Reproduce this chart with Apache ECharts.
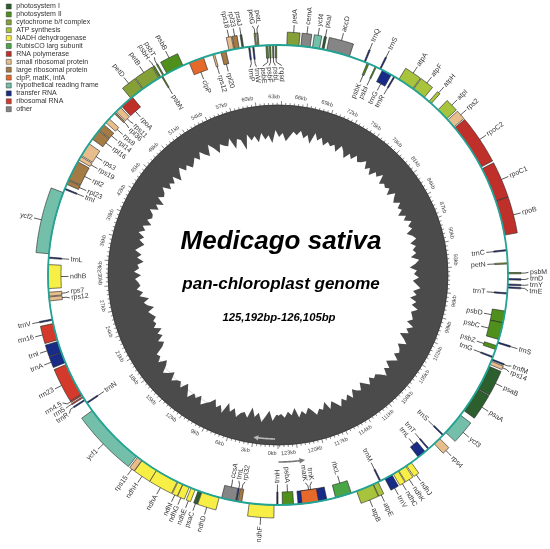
<!DOCTYPE html>
<html><head><meta charset="utf-8">
<script src="https://cdn.jsdelivr.net/npm/echarts@6/dist/echarts.min.js"></script>
<style>html,body{margin:0;padding:0;background:#fff}#c{width:550px;height:549px}</style>
</head><body><div id="c"></div>
<script>
// ---------------- DATA ----------------
const GENOME_KB = 125.192;
const categories = ['photosystem I','photosystem II','cytochrome b/f complex','ATP synthesis','NADH dehydrogenase','RubisCO larg subunit','RNA polymerase','small ribosomal protein','large ribosomal protein','clpP, matK, infA','hypothetical reading frame','transfer RNA','ribosomal RNA','other'];
const categoryColors = ['#2d5f2e','#4f8f1b','#86a038','#a7c43c','#f7ef45','#4aa546','#c0302b','#e8bd8c','#a47a45','#e5692a','#74bfa9','#182b86','#d43a2c','#858585'];
// [name, start kb, end kb, strand]  strand 1 = drawn outside, -1 = drawn inside
const photosystemI = [['psaC',6.75,7.06,1],['psaJ',59.47,59.61,1],['psaI',66.42,66.60,1],['psaB',102.03,104.19,1],['psaA',104.26,106.45,1]];
const photosystemII = [['psbH',51.82,51.96,1],['psbN',52.02,52.13,-1],['psbT',52.16,52.27,1],['psbB',52.55,54.11,1],['psbE',61.55,61.73,-1],['psbF',61.87,61.94,-1],['psbL',62.14,62.21,-1],['psbJ',62.39,62.46,-1],['psbK',70.53,70.70,-1],['psbI',71.29,71.40,-1],['psbM',93.69,93.79,1],['psbD',97.03,98.07,-1],['psbC',98.07,99.56,-1],['psbZ',100.12,100.47,-1],['psbA',123.84,124.81,-1]];
const cytochrome = [['petD',48.76,50.04,1],['petB',50.11,51.75,1],['petG',60.65,60.72,1],['petL',60.86,60.93,1],['petA',63.36,64.41,1],['petN',92.85,92.92,-1]];
const atpSynthase = [['atpA',73.62,75.08,1],['atpF',75.15,76.33,1],['atpH',76.86,77.13,1],['atpI',77.93,79.01,1],['atpE',116.22,116.67,1],['atpB',116.71,118.24,1]];
const nadh = [['ndhF',0.34,2.50,1],['ndhD',5.15,6.71,1],['ndhE',7.34,7.72,1],['ndhG',7.89,8.49,1],['ndhI',8.52,8.97,1],['ndhA',9.04,11.09,1],['ndhH',11.09,12.59,1],['ndhB',30.12,32.20,-1],['ndhJ',112.88,113.37,1],['ndhK',113.47,114.17,1],['ndhC',114.24,114.73,1]];
const rubisco = [['rbcL',118.73,120.15,-1]];
const rnaPolymerase = [['rpoA',47.71,48.93,-1],['rpoC2',80.05,84.16,1],['rpoC1',84.33,87.36,1],['rpoB',87.39,90.42,1]];
const smallRibosomal = [['rps15',12.62,13.08,1],['rps12',29.04,29.39,-1],['rps7',29.46,29.80,-1],['rps19',41.73,42.08,-1],['rps3',42.18,43.40,-1],['rps8',45.73,46.18,-1],['rps11',47.05,47.57,-1],['rps12',56.86,57.03,-1],['rps18',58.32,58.74,1],['rps2',79.15,79.95,1],['rps14',101.55,101.86,1],['rps4',109.65,110.31,1]];
const largeRibosomal = [['rpl32',3.16,3.48,-1],['rpl23',39.37,39.75,-1],['rpl2',39.82,41.56,-1],['rpl16',43.89,44.79,-1],['rpl14',44.86,45.49,-1],['rpl36',46.81,46.95,-1],['rpl20',57.59,58.04,-1],['rpl33',58.81,59.22,1]];
const clpMatInf = [['clpP',54.70,56.02,-1],['matK',121.65,123.11,-1]];
const hypothetical = [['ycf1',13.21,18.74,1],['ycf2',33.14,38.60,1],['ycf4',65.59,66.21,1],['ycf3',106.94,108.92,1]];
const transferRNA = [['trnH',0.02,0.09,-1],['trnL',3.58,3.65,-1],['trnN',19.51,19.58,-1],['trnR',19.82,19.89,1],['trnA',23.51,24.45,1],['trnI',24.48,25.46,1],['trnV',27.37,27.44,1],['trnL',32.76,32.83,-1],['trnI',38.91,38.98,-1],['trnP',60.06,60.13,-1],['trnW',60.41,60.48,-1],['trnQ',70.25,70.35,1],['trnS',71.74,71.81,1],['trnG',71.99,72.86,-1],['trnR',73.13,73.20,-1],['trnC',91.71,91.78,-1],['trnD',94.21,94.31,1],['trnY',94.69,94.76,1],['trnE',94.94,95.01,1],['trnT',95.46,95.53,-1],['trnS',99.81,99.88,1],['trnG',101.13,101.20,-1],['trnfM',101.37,101.44,1],['trnS',109.20,109.27,-1],['trnT',110.94,111.01,-1],['trnL',111.35,112.12,-1],['trnV',114.87,115.56,1],['trnM',115.98,116.05,-1],['trnK',120.92,123.45,-1]];
const ribosomalRNA = [['rrn5',20.10,20.20,1],['rrn4.5',20.31,20.41,1],['rrn23',20.45,23.33,1],['rrn16',25.60,27.06,1]];
const other = [['ccsA',3.70,4.94,-1],['cemA',64.58,65.38,1],['accD',66.84,68.89,1]];
const geneGroups = [photosystemI,photosystemII,cytochrome,atpSynthase,nadh,rubisco,rnaPolymerase,smallRibosomal,largeRibosomal,clpMatInf,hypothetical,transferRNA,ribosomalRNA,other];

// GC content profile, 0.5 kb windows (drawn inward from the ring edge)
const gcBinKb = 0.5;
const gcContent = [
30,24,34,28,22,31,26,35,24,29, 27,22,30,25,33,21,28,24,31,26,
23,19,27,22,25,18,24,29,21,26, 24,20,28,23,19,26,30,22,27,25,
34,38,33,40,36,42,35,39,37,41, 38,35,42,36,33,39,30,34,28,32,
30,27,33,26,31,29,35,28,32,25, 29,33,27,31,24,30,26,34,28,32,
31,26,34,29,36,27,32,30,25,33, 28,32,26,35,29,24,31,27,33,30,
26,31,24,29,33,22,28,35,27,30, 32,25,37,28,30,41,26,33,29,36,
27,34,30,38,25,32,28,36,31,26, 29,24,31,27,35,23,30,26,33,28,
31,28,34,26,30,36,29,33,27,32, 30,26,33,29,35,28,31,25,34,30,
32,29,35,27,31,34,28,33,30,36, 29,33,26,31,28,35,30,27,34,29,
33,30,36,28,32,38,31,34,29,35, 31,27,34,30,36,29,33,26,32,30,
28,33,25,31,27,35,29,24,32,28, 26,30,23,28,32,25,29,22,27,31,
29,33,27,31,35,28,30,34,26,32, 27,31,24,29,33,26,35,28,30,25,
30,34,28,32,26,36,29,33,27,31, 29];

const tickKb = [0,3,6,9,12,15,18,21,24,27,30,33,36,39,42,45,48,51,54,57,60,63,66,69,72,75,78,81,84,87,90,93,96,99,102,105,108,111,114,117,120,123];

// ---------------- LAYOUT ----------------
const R_TEAL = 230, BOX_H = 13;
const OUT_LABEL_R = 252, IN_LABEL_R = 208;
const GC_OUTER = 170, GC_MID = 146;
const FONT = '"Liberation Sans", Arial, sans-serif';

const labelPos = geneGroups.map(g => g.map(() => 0));
(function layoutLabels(){
  const all = [];
  geneGroups.forEach((grp, ci) => grp.forEach((g, gi) => all.push({ci, gi, mid:(g[1]+g[2])/2, side:g[3]})));
  [1,-1].forEach(side => {
    const items = all.filter(d => d.side === side).sort((a,b) => a.mid - b.mid);
    const r = side === 1 ? OUT_LABEL_R : IN_LABEL_R;
    const delta = (6.3 / r) / (2*Math.PI) * GENOME_KB;
    let best = 0, bestGap = -1;
    for (let i = 0; i < items.length; i++) {
      const prev = items[(i - 1 + items.length) % items.length];
      let gap = items[i].mid - prev.mid; if (i === 0) gap += GENOME_KB;
      if (gap > bestGap) { bestGap = gap; best = i; }
    }
    const ordered = items.slice(best).map(d => (d.want = d.mid, d))
      .concat(items.slice(0, best).map(d => (d.want = d.mid + GENOME_KB, d)));
    const clusters = [];
    ordered.forEach(it => {
      clusters.push({items:[it], sum:it.want});
      while (clusters.length > 1) {
        const c = clusters[clusters.length-1], p = clusters[clusters.length-2];
        const cs = c.sum/c.items.length - (c.items.length-1)*delta/2;
        const pe = p.sum/p.items.length + (p.items.length-1)*delta/2;
        if (pe + delta > cs) { p.items = p.items.concat(c.items); p.sum += c.sum; clusters.pop(); }
        else break;
      }
    });
    clusters.forEach(c => {
      const n = c.items.length, s = c.sum/n - (n-1)*delta/2;
      c.items.forEach((it, i) => { labelPos[it.ci][it.gi] = (s + i*delta + GENOME_KB) % GENOME_KB; });
    });
  });
})();

function arcPts(api, r, a0, a1){
  const n = Math.max(2, Math.ceil(Math.abs(a1 - a0) / 0.12) + 1);
  const pts = [];
  for (let i = 0; i < n; i++) pts.push(api.coord([r, a0 + (a1 - a0) * i / (n - 1)]));
  return pts;
}
function dist(p, q){ return Math.hypot(p[0]-q[0], p[1]-q[1]); }

function geneRender(ci){
  return function(params, api){
    const g = geneGroups[ci][params.dataIndex];
    let a0 = g[1], a1 = g[2];
    const minW = 0.11;
    if (a1 - a0 < minW) { const m = (a0 + a1)/2; a0 = m - minW/2; a1 = m + minW/2; }
    const out = g[3] === 1;
    const r0 = out ? R_TEAL : R_TEAL - BOX_H, r1 = out ? R_TEAL + BOX_H : R_TEAL;
    const pts = arcPts(api, r0, a0, a1).concat(arcPts(api, r1, a1, a0));
    const mid = (g[1] + g[2]) / 2, lp = labelPos[ci][params.dataIndex];
    const c = api.coord([0, 0]);
    const rEdge = out ? r1 : r0, dir = out ? 1 : -1, rl = out ? OUT_LABEL_R : IN_LABEL_R;
    const leader = [api.coord([rEdge, mid]), api.coord([rEdge + dir*4, mid]), api.coord([rl - dir*1.5, lp])];
    const tp = api.coord([rl, lp]);
    const phi = Math.atan2(tp[1]-c[1], tp[0]-c[0]);
    const right = Math.cos(phi) >= -1e-9;
    const rot = right ? -phi : Math.PI - phi;
    const align = (out === right) ? 'left' : 'right';
    return {type:'group', children:[
      {type:'polygon', shape:{points:pts}, style:{fill:categoryColors[ci], stroke:'#222', lineWidth:0.6}},
      {type:'polyline', shape:{points:leader}, style:{stroke:'#111', lineWidth:0.7, fill:'none'}},
      {type:'text', x:tp[0], y:tp[1], rotation:rot, style:{text:g[0], fill:'#333', font:'7px ' + FONT, align:align, verticalAlign:'middle'}}
    ]};
  };
}

// whole GC profile as one ring polygon: outer circle + spiky inner edge through window centres
function gcRender(params, api){
  const pts = [];
  const n = gcContent.length;
  pts.push(api.coord([GC_OUTER - gcContent[0], 0]));
  gcContent.forEach((v, i) => {
    const a = Math.min((i + 0.5) * gcBinKb, GENOME_KB);
    pts.push(api.coord([GC_OUTER - v, a]));
  });
  pts.push(api.coord([GC_OUTER - gcContent[n-1], GENOME_KB]));
  return {type:'polygon', shape:{points:pts.concat(arcPts(api, GC_OUTER, GENOME_KB, 0))}, style:{fill:'#4b4b4b'}};
}

function midCircleRender(params, api){
  const c = api.coord([0,0]);
  return {type:'circle', shape:{cx:c[0], cy:c[1], r:dist(api.coord([GC_MID,0]), c)}, style:{fill:'none', stroke:'#d2d2d2', lineWidth:0.8}};
}

function ringRender(params, api){
  const c = api.coord([0,0]);
  const ch = [];
  ch.push({type:'circle', shape:{cx:c[0], cy:c[1], r:dist(api.coord([GC_OUTER,0]), c)}, style:{fill:'none', stroke:'#333', lineWidth:0.8}});
  for (let k = 0; k < GENOME_KB; k += 0.5) {
    const major = Math.abs(k/3 - Math.round(k/3)) < 1e-6;
    const p1 = api.coord([GC_OUTER,k]), p2 = api.coord([GC_OUTER+(major?4:2.2),k]);
    ch.push({type:'line', shape:{x1:p1[0], y1:p1[1], x2:p2[0], y2:p2[1]}, style:{stroke:'#333', lineWidth:0.6}});
  }
  tickKb.forEach(k => {
    const p = api.coord([GC_OUTER + 8, k]);
    const phi = Math.atan2(p[1]-c[1], p[0]-c[0]);
    let rho = Math.PI/2 - phi;
    while (rho > Math.PI) rho -= 2*Math.PI;
    while (rho <= -Math.PI) rho += 2*Math.PI;
    if (rho > Math.PI/2 + 1e-9) rho -= Math.PI;
    if (rho < -Math.PI/2 - 1e-9) rho += Math.PI;
    ch.push({type:'text', x:p[0], y:p[1], rotation:rho, style:{x:-1.5, text:k + 'kb', fill:'#444', font:'5.5px ' + FONT, align:'right', verticalAlign:'middle'}});
  });
  const inner = arcPts(api, GC_OUTER - 6, 0.35, 2.45);
  ch.push({type:'polyline', shape:{points:inner}, style:{stroke:'#b8b8b8', lineWidth:1.6, fill:'none'}});
  ch.push({type:'polygon', shape:{points:[api.coord([GC_OUTER-6, 3.0]), api.coord([GC_OUTER-3.3, 2.4]), api.coord([GC_OUTER-8.7, 2.4])]}, style:{fill:'#b8b8b8'}});
  const outer = arcPts(api, 187, GENOME_KB - 0.05, 122.85);
  ch.push({type:'polyline', shape:{points:outer}, style:{stroke:'#777', lineWidth:1.6, fill:'none'}});
  ch.push({type:'polygon', shape:{points:[api.coord([187, 122.3]), api.coord([189.8, 122.9]), api.coord([184.2, 122.9])]}, style:{fill:'#777'}});
  return {type:'group', children:ch};
}

function tealRender(params, api){
  const c = api.coord([0,0]);
  return {type:'circle', shape:{cx:c[0], cy:c[1], r:dist(api.coord([R_TEAL,0]), c)}, style:{fill:'none', stroke:'#23a394', lineWidth:1.8}};
}

// ---------------- CHART ----------------
const series = [];
series.push({type:'custom', name:'gcMid', coordinateSystem:'polar', z:1, silent:true, data:[[0,0]], renderItem:midCircleRender});
series.push({type:'custom', name:'GC content', coordinateSystem:'polar', z:2, silent:true, data:[[0,0]], renderItem:gcRender});
series.push({type:'custom', name:'ring', coordinateSystem:'polar', z:3, silent:true, data:[[0,0]], renderItem:ringRender});
geneGroups.forEach((grp, ci) => {
  series.push({type:'custom', name:categories[ci], coordinateSystem:'polar', z: ci === 9 ? 5 : 4, silent:true,
    itemStyle:{color:categoryColors[ci]}, data:grp.map(g => [g[1], g[2]]), renderItem:geneRender(ci)});
});
series.push({type:'custom', name:'teal', coordinateSystem:'polar', z:6, silent:true, data:[[0,0]], renderItem:tealRender});

const chart = echarts.init(document.getElementById('c'), null, {renderer:'canvas'});
chart.setOption({
  animation:false,
  backgroundColor:'#fff',
  polar:{center:[278,275], radius:300},
  angleAxis:{type:'value', min:0, max:GENOME_KB, startAngle:270, clockwise:true, show:false},
  radiusAxis:{type:'value', min:0, max:300, show:false},
  legend:{data:categories, orient:'vertical', left:6, top:3, itemWidth:5, itemHeight:5, itemGap:0.9, icon:'rect', selectedMode:false,
    padding:0, itemStyle:{borderColor:'#333', borderWidth:0.5},
    textStyle:{fontSize:7, lineHeight:7, color:'#333', fontFamily:'Liberation Sans'}},
  graphic:[
    {type:'text', x:281, y:242, style:{text:'Medicago sativa', font:'italic bold 26px ' + FONT, fill:'#000', align:'center', verticalAlign:'middle'}},
    {type:'text', x:281, y:284, style:{text:'pan-chloroplast genome', font:'italic bold 17px ' + FONT, fill:'#000', align:'center', verticalAlign:'middle'}},
    {type:'text', x:279, y:318, style:{text:'125,192bp-126,105bp', font:'italic bold 11.3px ' + FONT, fill:'#000', align:'center', verticalAlign:'middle'}}
  ],
  series:series
});
</script></body></html>
